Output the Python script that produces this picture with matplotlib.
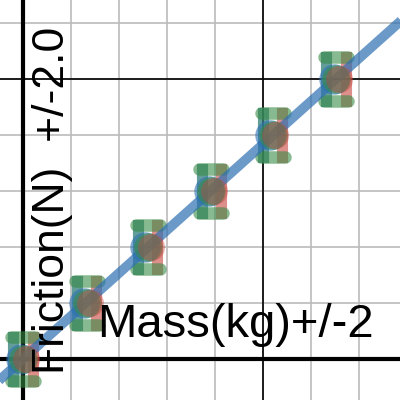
import matplotlib
matplotlib.use("Agg")
import matplotlib.pyplot as plt
import numpy as np

mass = [0.0, 1.33, 2.6, 3.92, 5.2, 6.52]
friction = [0.0, 1.0, 2.0, 3.0, 4.0, 5.0]
slope = 0.767

fig = plt.figure(figsize=(4, 4), dpi=100)
ax = fig.add_axes([0, 0, 1, 1])
ax.set_xlim(-0.479, 7.854)
ax.set_ylim(-0.732, 6.41)
for v in np.arange(-1, 9):
    ax.axvline(v, color='#bbbbbb', lw=1.2, zorder=0)
for v in np.arange(-1, 8):
    ax.axhline(v, color='#bbbbbb', lw=1.2, zorder=0)
for v in [0, 5]:
    ax.axvline(v, color='black', lw=1.2 if v else 3, zorder=1)
    ax.axhline(v, color='black', lw=1.2 if v else 3, zorder=1)
ax.axis('off')

xs = np.array([-1, 9])
ax.plot(xs, slope * xs, color='#2d70b3', lw=7, alpha=0.7, zorder=3, solid_capstyle='butt')

dx = 0.2
for x, y in zip(mass, friction):
    ax.plot([x - dx, x - dx], [y - 0.4, y + 0.4], color='#2d70b3', lw=8, alpha=0.6, zorder=2)
    ax.plot([x + dx, x + dx], [y - 0.4, y + 0.4], color='#c74440', lw=8, alpha=0.6, zorder=2)
    for yy in [y - 0.4, y + 0.4]:
        ax.plot([x - dx - 0.05, x + dx + 0.05], [yy, yy], color='#388c46', lw=9, alpha=0.6,
                zorder=2, solid_capstyle='round')
    ax.plot([x - dx, x - dx], [y - 0.4, y + 0.4], color='#388c46', lw=8, alpha=0.4, zorder=2)
    ax.scatter([x - 0.05], [y], s=480, color='#2d70b3', alpha=0.6, zorder=4, lw=0)
    ax.scatter([x], [y], s=420, color='#388c46', alpha=0.6, zorder=4, lw=0)
    ax.scatter([x + 0.06], [y], s=380, color='#c74440', alpha=0.4, zorder=4, lw=0)

ax.text(235, 75, "Mass(kg)+/-2", transform=None, fontsize=34, ha='center', va='center',
        family='Liberation Sans', zorder=5)
ax.text(53, 200, "Friction(N)  +/-2.0", transform=None, fontsize=32, rotation=90,
        ha='center', va='center', family='Liberation Sans', zorder=5)
fig.savefig("out.png", dpi=100)
